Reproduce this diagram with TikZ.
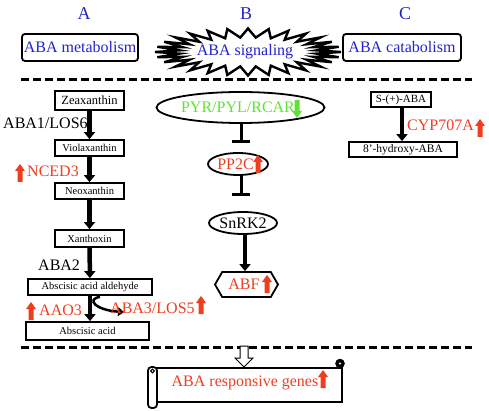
\documentclass[tikz,border=0pt]{standalone}
\usepackage{fontspec}
\setmainfont{Liberation Serif}
\usetikzlibrary{arrows.meta,shapes.geometric,shapes.symbols}
\definecolor{abablue}{RGB}{35,35,205}
\definecolor{abared}{RGB}{238,62,32}
\definecolor{abagreen}{RGB}{95,225,55}
% block arrows beside the gene names (bottom/top centre)
\newcommand{\upmark}[2]{\fill[abared] (#1,#2) ++(-2.5,0) -- ++(0,-11) -- ++(-2.5,0) -- ++(5,-7) -- ++(5,7) -- ++(-2.5,0) -- ++(0,11) -- cycle;}
\newcommand{\downmark}[2]{\fill[abagreen] (#1,#2) ++(-2.5,0) -- ++(0,11) -- ++(-2.5,0) -- ++(5,7) -- ++(5,-7) -- ++(-2.5,0) -- ++(0,-11) -- cycle;}
\begin{document}
\begin{tikzpicture}[x=1pt,y=-1pt,
  lab/.style={font=\fontsize{16}{18}\selectfont, inner sep=0},
  compound/.style={draw, line width=1.8pt, inner sep=0, font=\fontsize{10.5}{12}\selectfont},
  topbox/.style={draw, line width=1.8pt, rounded corners=3pt, inner sep=0, minimum height=27, text=abablue, font=\fontsize{16}{18}\selectfont},
  sigoval/.style={ellipse, draw, line width=1.8pt, inner sep=0, font=\fontsize{16}{18}\selectfont},
  conv/.style={line width=4.5pt, -{Triangle[width=11pt,length=7pt]}},
  block/.style={line width=3pt, -{Bar[width=18pt]}},
  dashline/.style={line width=3pt, dash pattern=on 8pt off 4pt}]
\useasboundingbox (0,0) rectangle (489,411);

% headings
\node[lab, text=abablue, font=\fontsize{18}{20}\selectfont] (hA) at (84,14) {A};
\node[lab, text=abablue, font=\fontsize{18}{20}\selectfont] (hB) at (246,14) {B};
\node[lab, text=abablue, font=\fontsize{18}{20}\selectfont] (hC) at (405,14) {C};
\node[topbox, minimum width=116] (meta) at (80,47.5) {ABA metabolism};
\node[topbox, minimum width=118] (cata) at (402,47.5) {ABA catabolism};
\draw[line width=2.4pt, line join=miter, fill=white] plot[samples at={0,...,55}]
  ({248+(81+12*cos(180*\x))*cos(6.428571*\x)}, {52+(19+4.5*cos(180*\x))*sin(6.428571*\x)}) -- cycle;
\node[lab, text=abablue] (signal) at (245,52) {ABA signaling};
\draw[dashline] (21,80) -- (472,80);

% A: biosynthesis
\node[compound, minimum width=69, minimum height=19, font=\fontsize{12.5}{14}\selectfont] (zea) at (89.5,100.5) {Zeaxanthin};
\node[compound, minimum width=69, minimum height=16] (viola) at (89.5,148) {Violaxanthin};
\node[compound, minimum width=69, minimum height=16] (neo) at (89.5,191) {Neoxanthin};
\node[compound, minimum width=69, minimum height=17] (xan) at (89.5,238.5) {Xanthoxin};
\node[compound, minimum width=124, minimum height=16] (ald) at (90,287) {Abscisic acid aldehyde};
\node[compound, minimum width=123, minimum height=18] (aba) at (87.5,331) {Abscisic acid};
\draw[conv] (zea) -- (viola);
\draw[conv] (viola) -- (neo);
\draw[conv] (neo) -- (xan);
\draw[conv] (xan) -- (ald);
\draw[conv] (ald.south) -- (ald.south |- aba.north);
\draw[line width=2.5pt, -{Triangle[width=9pt,length=6pt]}] ([shift={(10,1)}]ald.south)
  .. controls (86,299) and (95,310) .. ([shift={(36.5,-9)}]aba.north);
\node[lab, anchor=base west] (los6) at (3,129) {ABA1/LOS6};
\node[lab, anchor=base west, text=abared] (nced) at (27,177) {NCED3};
\upmark{20}{182}
\node[lab, anchor=base west] (aba2) at (38,270) {ABA2};
\node[lab, anchor=base west, text=abared] (aao) at (39,315) {AAO3};
\upmark{31}{320}
\node[lab, anchor=base west, text=abared] (los5) at (110,313) {ABA3/LOS5};
\upmark{201}{314}

% B: signalling
\node[sigoval, minimum width=145, minimum height=31, text=abagreen] (pyr) at (240.5,107.5) {PYR/PYL/RCAR\kern5pt};
\downmark{297}{100}
\node[sigoval, minimum width=60, minimum height=22, text=abared] (pp2c) at (238,164) {PP2C\kern5pt};
\upmark{258}{173}
\node[sigoval, minimum width=68, minimum height=22] (snrk) at (243,223) {SnRK2};
\node[signal, signal to=west and east, signal pointer angle=120, draw, line width=1.8pt, inner sep=0,
  minimum width=63, minimum height=25, text=abared, font=\fontsize{16}{18}\selectfont] (abf) at (246.5,284.5) {ABF\kern5pt};
\upmark{267}{293}
\draw[block, shorten >=10pt] (pyr.south -| 241,0) -- (241,153);
\draw[block, shorten >=15pt] (241,175) -- (snrk.north -| 241,0);
\draw[conv] (snrk.south -| 245,0) -- (abf.north -| 245,0);

% C: catabolism
\node[compound, minimum width=60, minimum height=15, font=\fontsize{11}{12}\selectfont] (saba) at (401,99.5) {S-(+)-ABA};
\node[compound, minimum width=108, minimum height=15, font=\fontsize{11.5}{12}\selectfont] (hydroxy) at (403,149.5) {8’-hydroxy-ABA};
\draw[conv] (saba.south -| 402,0) -- (hydroxy.north -| 402,0);
\node[lab, anchor=base west, text=abared] (cyp) at (407,131) {CYP707A};
\upmark{480}{137}

% responsive genes
\draw[dashline] (21,347) -- (472,347);
\draw[line width=1pt, fill=white] (240,346) -- (248,346) -- (248,358) -- (253,358) -- (244,367) -- (235,358) -- (240,358) -- cycle;
\draw[line width=1.8pt, fill=white] (153,368) -- (342,368) -- (342,402) -- (153,402) -- cycle;
\draw[line width=1.5pt, fill=black] (340,363.5) circle (4);
\fill[white] (340,363.5) circle (1.2);
\draw[line width=1.8pt, fill=white, rounded corners=3.5pt] (148,367) rectangle (157,408);
\draw[line width=1pt] (152.5,371) circle (1.8);
\node[lab, text=abared] (genes) at (248,383) {ABA responsive genes\kern6pt};
\upmark{323}{388}
\end{tikzpicture}
\end{document}
